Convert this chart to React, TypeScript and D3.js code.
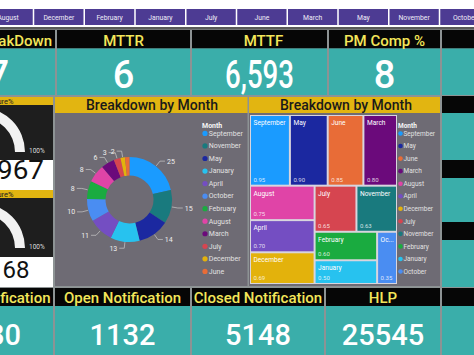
import React from 'react';
import * as d3 from 'd3';

const W = 474;
const H = 355;

const slicerMonths = ['August', 'December', 'February', 'January', 'July', 'June', 'March', 'May', 'November', 'October'];

const topTitles = ['Total BreakDown', 'MTTR', 'MTTF', 'PM Comp %', ''];
const topValues = ['117', '6', '6,593', '8', ''];
const bottomTitles = ['Total Notification', 'Open Notification', 'Closed Notification', 'HLP', ''];
const bottomValues = ['6280', '1132', '5148', '25545', ''];
const gaugeTitles = ['Failure%', 'Failure%'];
const gaugeValues = ['967', '68'];
const gaugeMaxLabel = '100%';

const donutMonths = ['September', 'November', 'May', 'January', 'April', 'October', 'February', 'August', 'March', 'July', 'December', 'June'];
const donutValues = [25, 15, 14, 13, 11, 10, 8, 8, 6, 3, 2, 2];
const donutLabels = ['25', '15', '14', '13', '11', '10', '8', '8', '6', '3', '2', ''];

const treeMonths = ['September', 'May', 'June', 'March', 'August', 'April', 'December', 'July', 'November', 'February', 'January', 'October'];
const treeValues = [0.95, 0.9, 0.85, 0.8, 0.75, 0.7, 0.69, 0.65, 0.63, 0.6, 0.5, 0.35];

const monthColors: Record<string, string> = {
  September: '#1a9bff',
  November: '#197a7e',
  May: '#1b28a0',
  January: '#27c2ef',
  April: '#744ec2',
  October: '#4a8df2',
  February: '#1aab40',
  August: '#e044a7',
  March: '#6b0a7b',
  July: '#d64550',
  December: '#e3b20c',
  June: '#e86c37',
};

const TEAL = '#3aaeaa';
const BLACK = '#060606';
const HEAD_YELLOW = '#f3e65a';
const BAND = '#e2b511';
const PANEL = '#6e6b74';
const BG = '#8d9394';
const FONT = 'Roboto, "DejaVu Sans", sans-serif';

function truncate(name: string, avail: number, cw: number) {
  if (name.length * cw <= avail) return name;
  const n = Math.max(1, Math.floor((avail - 4) / cw));
  return name.slice(0, n) + '...';
}

export default function App() {
  const slicerX = d3.scaleBand<string>().domain(slicerMonths).range([-16.5, 489.5]).paddingInner(0.03);

  const cx = 129.5, cy = 199.5;
  const pie = d3.pie<number>().sort(null).value((d) => d)(donutValues);
  const arcGen = d3.arc<d3.PieArcDatum<number>>().innerRadius(24).outerRadius(42.5);
  const pt = (a: number, r: number) => [Math.sin(a) * r, -Math.cos(a) * r];
  const labelInfo = pie.map((p, i) => {
    const a = (p.startAngle + p.endAngle) / 2;
    const p1 = pt(a, 43);
    const p2 = pt(a, 49);
    const right = a < Math.PI;
    const p3 = [p2[0] + (right ? 5 : -5), p2[1]];
    return { a, p1, p2, p3, right, tx: p3[0] + (right ? 2 : -2), ty: p3[1] + 2.5, label: donutLabels[i] };
  });
  const left = labelInfo.filter((l) => !l.right && l.label).sort((a, b) => b.a - a.a);
  let prevX = Infinity;
  let prevY = -Infinity;
  left.forEach((l) => {
    if (Math.abs(l.ty - prevY) < 8 && l.tx > prevX - 8) {
      const shift = l.tx - (prevX - 8);
      l.tx -= shift;
      l.p3 = [l.p3[0] - shift, l.p3[1]];
    }
    prevX = l.tx;
    prevY = l.ty;
  });

  const tmX = 251, tmY = 116, tmW = 145, tmH = 167;
  const root = d3
    .hierarchy<any>({ children: treeMonths.map((m, i) => ({ name: m, value: treeValues[i] })) })
    .sum((d: any) => d.value ?? 0);
  d3.treemap<any>().size([tmW, tmH]).paddingInner(2).tile(d3.treemapSquarify)(root);
  const leaves = root.leaves() as d3.HierarchyRectangularNode<any>[];

  const topCols = [[-80, 55], [57, 190], [192, 327], [329, 440], [442, 540]];
  const botCols = [[-80, 53], [55, 190], [192, 324], [326, 440], [442, 540]];

  const legendY = d3.scaleLinear().domain([0, 11]).range([135.7, 273.7]);

  return (
    <svg width={W} height={H} style={{ position: 'absolute', left: 0, top: 0 }} fontFamily={FONT}>
      <rect x={0} y={0} width={W} height={H} fill="#ffffff" />
      {slicerMonths.map((m) => (
        <g key={m}>
          <rect x={slicerX(m)} y={9} width={slicerX.bandwidth()} height={16} fill="#4d3b93" />
          <text x={(slicerX(m) as number) + slicerX.bandwidth() / 2} y={19.6} fontSize={6.8} fill="#f0eef8" textAnchor="middle">
            {m}
          </text>
        </g>
      ))}
      <rect x={0} y={27} width={W} height={H - 27} fill={BG} />
      <rect x={0} y={27} width={W} height={2.5} fill="#5a5a5a" />

      {topCols.map(([x0, x1], i) => {
        const cxm = (x0 + x1) / 2;
        const clipped = i === 0;
        return (
          <g key={'t' + i}>
            <rect x={x0} y={30} width={x1 - x0} height={18.5} fill={BLACK} />
            <rect x={x0} y={48.5} width={x1 - x0} height={46.5} fill={TEAL} />
            {topTitles[i] && (
              <text x={clipped ? 52 : cxm + (i === 2 ? 4 : 0)} y={45.8} fontSize={15} fontWeight={500} fill={HEAD_YELLOW} textAnchor={clipped ? 'end' : 'middle'}>
                {topTitles[i]}
              </text>
            )}
            {topValues[i] && (
              <text
                x={clipped ? 9 : cxm}
                y={88}
                fontSize={38}
                fontWeight={500}
                fill="#ffffff"
                textAnchor={clipped ? 'end' : 'middle'}
                {...(i === 2 ? { textLength: 69, lengthAdjust: 'spacingAndGlyphs' } : {})}
              >
                {topValues[i]}
              </text>
            )}
          </g>
        );
      })}

      {[0, 1].map((g) => {
        const y0 = g === 0 ? 97 : 190;
        const gy = g === 0 ? 152 : 248;
        const vy = g === 0 ? 179 : 277.5;
        const blackEnd = g === 0 ? 160 : 257;
        const whiteEnd = g === 0 ? 190 : 287;
        const arcG = d3.arc()({ innerRadius: 34.5, outerRadius: 44.5, startAngle: -Math.PI / 2, endAngle: Math.PI / 2 } as any) as string;
        return (
          <g key={'g' + g}>
            <rect x={0} y={y0} width={53} height={8} fill={BAND} />
            <text x={13.5} y={y0 + 6.5} fontSize={7.5} fill="#222" textAnchor="end">
              {gaugeTitles[g]}
            </text>
            <rect x={0} y={y0 + 8} width={53} height={blackEnd - y0 - 8} fill="#1e1e1e" />
            <clipPath id={`gclip${g}`}>
              <rect x={0} y={y0 + 8} width={53} height={blackEnd - y0 - 8} />
            </clipPath>
            <g clipPath={`url(#gclip${g})`}>
              <path d={arcG} transform={`translate(-19.5,${gy})`} fill="#f2f2f2" />
            </g>
            <text x={29} y={gy + 1} fontSize={6.5} fill="#dddddd">
              {gaugeMaxLabel}
            </text>
            <rect x={0} y={blackEnd} width={53} height={whiteEnd - blackEnd} fill="#ffffff" />
            <text
              x={g === 0 ? 44 : 29.5}
              y={vy}
              fontSize={g === 0 ? 25 : 24}
              fill="#111"
              textAnchor="end"
              {...(g === 0 ? { textLength: 47, lengthAdjust: 'spacingAndGlyphs' } : {})}
            >
              {gaugeValues[g]}
            </text>
          </g>
        );
      })}

      <rect x={55} y={97} width={192.5} height={16} fill={BAND} />
      <text x={152} y={110} fontSize={14} fontWeight={500} fill="#1a1a1a" textAnchor="middle">
        Breakdown by Month
      </text>
      <rect x={55} y={113} width={192.5} height={173} fill={PANEL} />
      <g transform={`translate(${cx},${cy})`}>
        {pie.map((p, i) => (
          <path key={i} d={arcGen(p) as string} fill={monthColors[donutMonths[i]]} />
        ))}
        {labelInfo.map((l, i) =>
          l.label ? (
            <g key={'l' + i}>
              <polyline
                points={`${l.p1[0]},${l.p1[1]} ${l.p2[0]},${l.p2[1]} ${l.p3[0]},${l.p3[1]}`}
                fill="none"
                stroke="#c8c8c8"
                strokeWidth={0.7}
              />
              <text x={l.tx} y={l.ty} fontSize={7} fill="#eeeeee" textAnchor={l.right ? 'start' : 'end'}>
                {l.label}
              </text>
            </g>
          ) : null
        )}
      </g>
      <text x={202} y={127.5} fontSize={7} fontWeight={700} fill="#f4f4f4">
        Month
      </text>
      {donutMonths.map((m, i) => (
        <g key={'dl' + m}>
          <circle cx={205} cy={legendY(i) - 2.3} r={2.6} fill={monthColors[m]} />
          <text x={208.8} y={legendY(i)} fontSize={7} fill="#e2e2e2">
            {m}
          </text>
        </g>
      ))}

      <rect x={249} y={97} width={191} height={16} fill={BAND} />
      <text x={346} y={110} fontSize={14} fontWeight={500} fill="#1a1a1a" textAnchor="middle">
        Breakdown by Month
      </text>
      <rect x={249} y={113} width={191} height={173} fill={PANEL} />
      <rect x={tmX - 1} y={tmY - 1} width={tmW + 2} height={tmH + 2} fill="#d8d5de" />
      <g transform={`translate(${tmX},${tmY})`}>
        {leaves.map((n) => {
          const w = n.x1 - n.x0;
          return (
            <g key={'tm' + n.data.name}>
              <rect x={n.x0} y={n.y0} width={w} height={n.y1 - n.y0} fill={monthColors[n.data.name]} />
              <text x={n.x0 + 2.5} y={n.y0 + 9} fontSize={6.6} fill="#ffffff">
                {truncate(n.data.name, w - 4, 3.4)}
              </text>
              <text x={n.x0 + 2.5} y={n.y1 - 3} fontSize={6} fill="#ffffff" fillOpacity={0.8}>
                {d3.format('.2f')(n.data.value)}
              </text>
            </g>
          );
        })}
      </g>
      <text x={398} y={127.5} fontSize={6.5} fontWeight={700} fill="#f4f4f4">
        Month
      </text>
      {treeMonths.map((m, i) => (
        <g key={'tl' + m}>
          <circle cx={400.5} cy={legendY(i) - 2.2} r={2.3} fill={monthColors[m]} />
          <text x={403.5} y={legendY(i)} fontSize={6.5} fill="#e2e2e2">
            {m}
          </text>
        </g>
      ))}

      <rect x={442} y={96} width={40} height={17} fill={BLACK} />
      <rect x={442} y={113} width={40} height={47} fill={TEAL} />
      <rect x={442} y={160} width={40} height={18} fill={BLACK} />
      <rect x={442} y={178} width={40} height={44} fill={TEAL} />
      <rect x={442} y={222} width={40} height={18} fill={BLACK} />
      <rect x={442} y={240} width={40} height={47} fill={TEAL} />

      {botCols.map(([x0, x1], i) => {
        const cxm = (x0 + x1) / 2;
        const clipped = i === 0;
        return (
          <g key={'b' + i}>
            <rect x={x0} y={288} width={x1 - x0} height={18} fill={BLACK} />
            <rect x={x0} y={306} width={x1 - x0} height={49} fill={TEAL} />
            {bottomTitles[i] && (
              <text x={clipped ? 50.5 : cxm} y={302.5} fontSize={15} fontWeight={500} fill={HEAD_YELLOW} textAnchor={clipped ? 'end' : 'middle'}>
                {bottomTitles[i]}
              </text>
            )}
            {bottomValues[i] && (
              <text x={clipped ? 21 : cxm} y={345} fontSize={29} fontWeight={500} fill="#ffffff" textAnchor={clipped ? 'end' : 'middle'}>
                {bottomValues[i]}
              </text>
            )}
          </g>
        );
      })}
    </svg>
  );
}
